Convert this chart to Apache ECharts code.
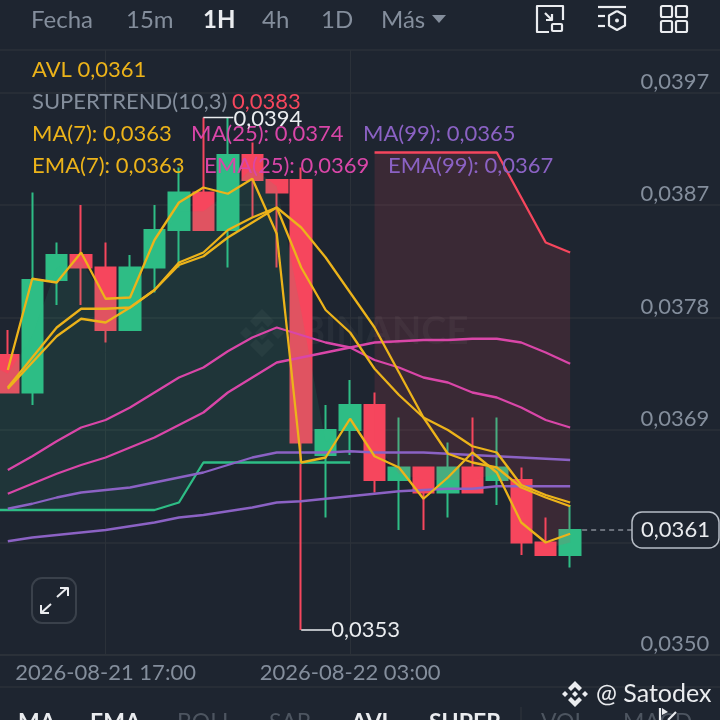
<!DOCTYPE html>
<html><head><meta charset="utf-8">
<style>html,body{margin:0;padding:0;background:#1e2530;overflow:hidden}#c{width:720px;height:720px}</style>
<script src="https://cdn.jsdelivr.net/npm/echarts@6/dist/echarts.min.js"></script>
</head><body><div id="c"></div>
<script>
const categories=["2026-08-21 12:00","2026-08-21 13:00","2026-08-21 14:00","2026-08-21 15:00","2026-08-21 16:00","2026-08-21 17:00","2026-08-21 18:00","2026-08-21 19:00","2026-08-21 20:00","2026-08-21 21:00","2026-08-21 22:00","2026-08-21 23:00","2026-08-22 00:00","2026-08-22 01:00","2026-08-22 02:00","2026-08-22 03:00","2026-08-22 04:00","2026-08-22 05:00","2026-08-22 06:00","2026-08-22 07:00","2026-08-22 08:00","2026-08-22 09:00","2026-08-22 10:00","2026-08-22 11:00","2026-08-22 12:00","2026-08-22 13:00","2026-08-22 14:00","2026-08-22 15:00","2026-08-22 16:00","2026-08-22 17:00","2026-08-22 18:00","2026-08-22 19:00"];
const xLabelled=["2026-08-21 17:00","2026-08-22 03:00"];
const opens =[.0374,.0375,.0372,.0381,.0383,.0382,.0377,.0382,.0385,.0388,.0385,.0391,.0389,.0389,.0367,.0369,.0371,.0365,.0366,.0364,.0366,.0365,.0365,.0360,.0359];
const closes=[.0375,.0372,.0381,.0383,.0382,.0377,.0382,.0385,.0388,.0385,.0391,.0389,.0388,.0368,.0369,.0371,.0365,.0366,.0364,.0366,.0364,.0366,.0360,.0359,.0361];
const lows  =[.0374,.0372,.0371,.0379,.0379,.0376,.0377,.0380,.0382,.0385,.0382,.0386,.0382,.0353,.0362,.0367,.0364,.0361,.0361,.0362,.0364,.0363,.0359,.0359,.0358];
const highs =[.0375,.0377,.0388,.0384,.0387,.0384,.0383,.0387,.0390,.0394,.0394,.0392,.0389,.0390,.0371,.0373,.0372,.0370,.0366,.0368,.0370,.0370,.0366,.0362,.0363];
const avl =[null,.03738,.03811,.03808,.03832,.03795,.03796,.03842,.03872,.03884,.03879,.03891,.03847,.03664,.03668,.03699,.03669,.03660,.03635,.03652,.03672,.03656,.03616,.03600,.03607];
const ema7=[null,.03724,.03748,.03772,.03787,.03787,.03788,.03802,.03824,.03832,.03850,.03860,.03868,.03852,.03828,.03800,.03772,.03736,.03700,.03671,.03664,.03660,.03644,.03636,.03629];
const ma7 =[null,.03723,.03744,.03765,.03779,.03776,.03788,.03802,.03822,.03829,.03844,.03856,.03868,.03820,.03786,.03768,.03739,.03718,.03700,.03690,.03677,.03672,.03646,.03638,.03632];
const ma25=[null,.03639,.03647,.03655,.03662,.03668,.03676,.03684,.03694,.03704,.03720,.03732,.03744,.03748,.03752,.03756,.03760,.03761,.03762,.03762,.03763,.03763,.03760,.03752,.03743];
const ema25=[null,.03658,.03669,.03681,.03692,.03698,.03708,.03720,.03732,.03740,.03753,.03764,.03772,.03766,.03760,.03756,.03746,.03740,.03732,.03728,.03720,.03716,.03708,.03698,.03692];
const ema99=[null,.03627,.03631,.03636,.03640,.03642,.03644,.03648,.03652,.03656,.03662,.03668,.03672,.03672,.03672,.03673,.03672,.03672,.03672,.03671,.03670,.03669,.03668,.03667,.03666];
const ma99=[null,.03601,.03604,.03606,.03608,.03610,.03613,.03616,.03620,.03622,.03625,.03628,.03632,.03633,.03635,.03637,.03639,.03641,.03642,.03643,.03643,.03645,.03645,.03645,.03645];
const superUp=[.03626,.03626,.03626,.03626,.03626,.03626,.03626,.03626,.03632,.03664,.03664,.03664,.03664,.03664,.03664,.03664,null,null,null,null,null,null,null,null,null];
const superDown=[null,null,null,null,null,null,null,null,null,null,null,null,null,null,null,null,.03912,.03912,.03912,.03912,.03912,.03912,.03876,.03840,.03832];
const yTickValues=[.0351,.0360,.0369,.0378,.0387,.0396];
const yTickLabels=["0,0350","","0,0369","0,0378","0,0387","0,0397"];
const legendRows=[
 [["AVL 0,0361",32,70,"#ecb31a"]],
 [["SUPERTREND(10,3)",32,102,"#848e9c"],["0,0383",232,102,"#f6465d"]],
 [["MA(7): 0,0363",32,134,"#ecb31a"],["MA(25): 0,0374",191,134,"#d946a8"],["MA(99): 0,0365",363,134,"#8b62c4"]],
 [["EMA(7): 0,0363",32,166,"#ecb31a"],["EMA(25): 0,0369",204,166,"#d946a8"],["EMA(99): 0,0367",388,166,"#8b62c4"]]
];
const tabs=[["Fecha",31,"#848e9c",400],["15m",126,"#848e9c",400],["1H",203,"#eaecef",700],["4h",262,"#848e9c",400],["1D",321,"#848e9c",400],["Más",381,"#848e9c",400]];
const bottomTabs=[["MA",18,"#eaecef",700],["EMA",90,"#eaecef",700],["BOLL",177,"#4d5560",400],["SAR",269,"#4d5560",400],["AVL",351,"#eaecef",700],["SUPER",429,"#eaecef",700],["VOL",541,"#4d5560",400],["MACD",623,"#4d5560",400]];

const FONT='Lato, "Open Sans", sans-serif';
const UP='#2ebd85',DOWN='#f6465d',YEL='#ecb31a',MAG='#d946a8',PUR='#8b62c4',GRID='#2b3139';
const candles=opens.map((o,i)=>[o,closes[i],lows[i],highs[i]]);
const mids=opens.map((o,i)=>(o+closes[i])/2);
const lineS=(name,data,color)=>({name,type:'line',data,symbol:'none',z:6,silent:true,connectNulls:false,lineStyle:{color,width:2.3},itemStyle:{color}});
const bandS=(stack,base,band,color)=>[
 {type:'line',stack,data:base,symbol:'none',z:4,lineStyle:{width:0},silent:true},
 {type:'line',stack,data:band,symbol:'none',z:4,lineStyle:{width:0},areaStyle:{color,opacity:1},silent:true}];
const greenBand=superUp.map((s,i)=>s==null?null:mids[i]-s);
const redBase=superDown.map((s,i)=>s==null?null:mids[i]);
const redBand=superDown.map((s,i)=>s==null?null:s-mids[i]);

const chart=echarts.init(document.getElementById('c'),null,{renderer:'canvas'});
const txt=(text,x,y,fill,size,weight,extra)=>({type:'text',silent:true,z:20,style:Object.assign({text,x,y,fill,font:`${weight||400} ${size||22}px ${FONT}`,verticalAlign:'middle'},extra||{})});
chart.setOption({
 animation:false,backgroundColor:'#1e2530',
 grid:{left:-16.65,width:757.95,top:50,height:605,containLabel:false,outerBoundsMode:'none'},
 xAxis:{type:'category',boundaryGap:false,data:categories,
  axisLine:{show:true,lineStyle:{color:GRID,width:2}},axisTick:{show:false},
  axisLabel:{color:'#848e9c',fontSize:22,fontFamily:FONT,margin:7,interval:(i,v)=>xLabelled.includes(v)},
  splitLine:{show:true,lineStyle:{color:GRID,width:1},interval:(i,v)=>xLabelled.includes(v)}},
 yAxis:{type:'value',position:'right',scale:true,min:.0351,max:.03994,interval:.0009,
  axisLine:{show:false},axisTick:{show:false},
  axisLabel:{inside:true,margin:32,align:'right',verticalAlign:'bottom',color:'#848e9c',fontSize:22,fontFamily:FONT,
   formatter:v=>{const k=yTickValues.findIndex(t=>Math.abs(t-v)<1e-6);return k<0?'':yTickLabels[k];}},
  splitLine:{show:true,lineStyle:{color:GRID,width:1.5}}},
 series:[
  {name:'candles',type:'candlestick',data:candles,barWidth:21,z:3,silent:true,
   itemStyle:{color:UP,color0:DOWN,borderColor:UP,borderColor0:DOWN,borderWidth:2}},
  ...bandS('g',superUp,greenBand,'rgba(46,189,133,0.11)'),
  ...bandS('r',redBase,redBand,'rgba(246,70,93,0.13)'),
  lineS('SUPER up',superUp,UP),lineS('SUPER down',superDown,DOWN),
  lineS('EMA99',ema99,PUR),lineS('MA99',ma99,PUR),
  lineS('MA25',ma25,MAG),lineS('EMA25',ema25,MAG),
  lineS('MA7',ma7,YEL),lineS('EMA7',ema7,YEL),lineS('AVL',avl,YEL)
 ]
});
const px=(cat,val)=>chart.convertToPixel({xAxisIndex:0,yAxisIndex:0},[cat,val]);
const hi=px("2026-08-21 21:00",.0394), lo=px("2026-08-22 01:00",.0353), last=px("2026-08-22 12:00",closes[closes.length-1]);
const g=[];
const pl=(points,z,style)=>({type:'polyline',silent:true,z:z||20,shape:{points},style:Object.assign({stroke:'#eaecef',fill:'none',lineWidth:2.2,lineJoin:'round'},style||{})});
const pg=(points,fill,z)=>({type:'polygon',silent:true,z:z||20,shape:{points},style:{fill}});
// header / footer
g.push({type:'rect',silent:true,z:9,shape:{x:0,y:687,width:720,height:33},style:{fill:'#1e2530'}});
g.push({type:'line',silent:true,z:19,shape:{x1:0,y1:687,x2:720,y2:687},style:{stroke:GRID,lineWidth:1.5}});
tabs.forEach(t=>g.push(txt(t[0],t[1],20,t[2],24,t[3])));
g.push(pg([[432,15],[446,15],[439,23]],'#848e9c'));
bottomTabs.forEach(t=>g.push(txt(t[0],t[1],723,t[2],23,t[3])));
g.push({type:'line',silent:true,z:20,shape:{x1:521,y1:707,x2:521,y2:720},style:{stroke:GRID,lineWidth:1.5}});
// toolbar icons
g.push(pl([[549,32],[537,32],[537,6],[563,6],[563,20]]));
g.push({type:'rect',silent:true,z:20,shape:{x:552,y:24,width:10,height:7,r:1},style:{stroke:'#eaecef',fill:'none',lineWidth:2.2}});
g.push(pl([[545,13],[552,20]]));g.push(pl([[552,14],[552,20],[546,20]]));
g.push(pl([[598,7],[626,7]]));g.push(pl([[598,16],[605,16]]));g.push(pl([[598,26],[605,26]]));
g.push(pl([[617,11],[625,15.5],[625,25.5],[617,30],[609,25.5],[609,15.5],[617,11]]));
g.push({type:'circle',silent:true,z:20,shape:{cx:617,cy:20.5,r:2},style:{fill:'#eaecef'}});
[[661,6],[676,6],[661,21],[676,21]].forEach(p=>g.push({type:'rect',silent:true,z:20,shape:{x:p[0],y:p[1],width:11,height:11,r:1.5},style:{stroke:'#eaecef',fill:'none',lineWidth:2.2}}));
// legend
legendRows.forEach(r=>r.forEach(t=>g.push(txt(t[0],t[1],t[2],t[3],22,400))));
// high / low
g.push({type:'line',silent:true,z:21,shape:{x1:hi[0],y1:hi[1],x2:hi[0]+30,y2:hi[1]},style:{stroke:'#eaecef',lineWidth:1.5}});
g.push(txt('0,0394',hi[0]+30,hi[1]+1,'#eaecef',22,400));
g.push({type:'line',silent:true,z:21,shape:{x1:lo[0],y1:lo[1],x2:lo[0]+30,y2:lo[1]},style:{stroke:'#eaecef',lineWidth:1.5}});
g.push(txt('0,0353',lo[0]+30,lo[1],'#eaecef',22,400));
// last price
g.push({type:'line',silent:true,z:12,shape:{x1:last[0]+12,y1:last[1],x2:632,y2:last[1]},style:{stroke:'#b7bdc6',lineWidth:1.2,lineDash:[5,4]}});
g.push({type:'rect',silent:true,z:20,shape:{x:632,y:last[1]-18,width:87,height:36,r:10},style:{fill:'#1e2530',stroke:'#b7bdc6',lineWidth:1.5}});
g.push(txt('0,0361',675.5,last[1],'#eaecef',22,400,{align:'center'}));
// fullscreen button
g.push({type:'rect',silent:true,z:20,shape:{x:32,y:578,width:44,height:45,r:10},style:{fill:'none',stroke:'#3a414b',lineWidth:2}});
g.push(pl([[57,597],[67,588]],20,{lineWidth:2}));g.push(pl([[60,588],[68,588],[68,596]],20,{lineWidth:2}));
g.push(pl([[51,604],[41,613]],20,{lineWidth:2}));g.push(pl([[41,605],[41,613],[49,613]],20,{lineWidth:2}));
// watermark
const wm='rgba(255,255,255,0.045)';
[[[262,309],[274,321],[268,327],[262,321],[256,327],[250,321]],
 [[262,357],[274,345],[268,339],[262,345],[256,339],[250,345]],
 [[240,333],[246,327],[252,333],[246,339]],
 [[284,333],[278,327],[272,333],[278,339]],
 [[262,326],[269,333],[262,340],[255,333]]].forEach(p=>g.push(pg(p,wm,1)));
g.push({type:'text',silent:true,z:1,style:{text:'BINANCE',x:300,y:332,fill:wm,font:`700 38px ${FONT}`,verticalAlign:'middle'}});
// signature
[[[575,681],[582,688],[579,691],[575,687],[571,691],[568,688]],
 [[575,707],[582,700],[579,697],[575,701],[571,697],[568,700]],
 [[562,694],[565,691],[568,694],[565,697]],
 [[588,694],[585,691],[582,694],[585,697]],
 [[575,691],[578,694],[575,697],[572,694]]].forEach(p=>g.push(pg(p,'#eaecef')));
g.push(txt('@ Satodex',596,694,'#eaecef',25,400));
g.push(pl([[660,708],[660,720]]));g.push(pg([[662,708],[668,712],[662,715]],'#eaecef'));g.push(pl([[668,720],[676,712]]));
chart.setOption({graphic:{elements:g}});
</script></body></html>
